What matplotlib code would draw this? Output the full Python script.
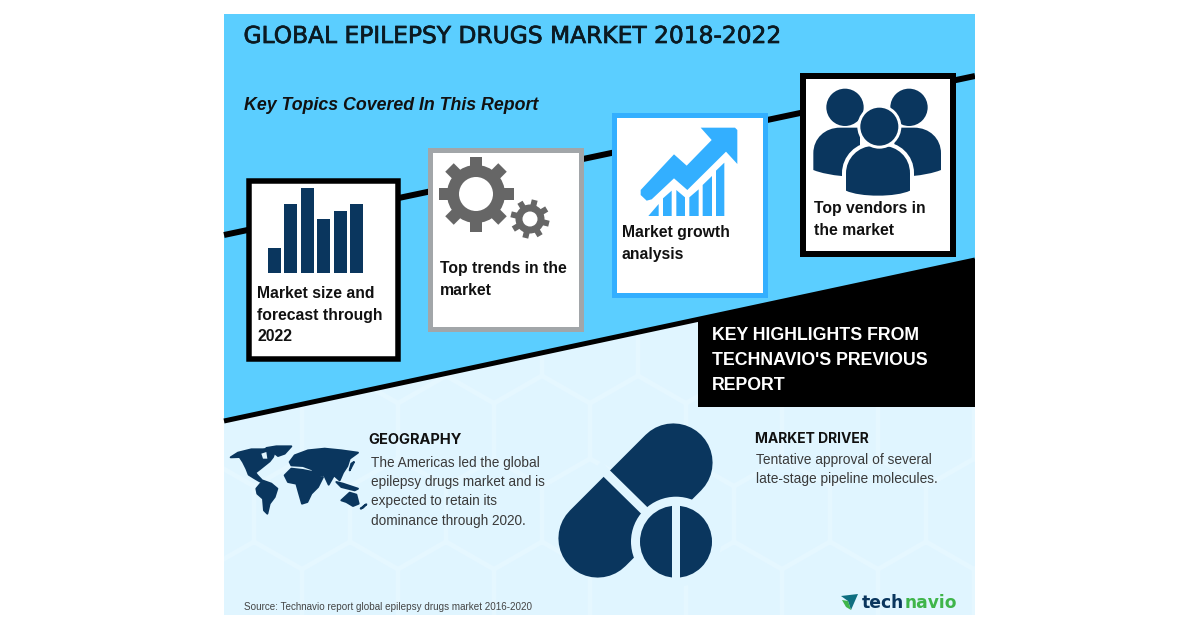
import numpy as np
import matplotlib
matplotlib.use("Agg")
import matplotlib.pyplot as plt
import matplotlib.patheffects as pe
from matplotlib.patches import Polygon, Rectangle, Circle, PathPatch
from matplotlib.path import Path

TITLE = "GLOBAL EPILEPSY DRUGS MARKET 2018-2022"
SUBTITLE = "Key Topics Covered In This Report"
BAR_VALUES = [25, 69, 85, 54, 62, 69]
LABEL_1 = ["Market size and", "forecast through", "2022"]
LABEL_2 = ["Top trends in the", "market"]
LABEL_3 = ["Market growth", "analysis"]
LABEL_4 = ["Top vendors in", "the market"]
HIGHLIGHTS = ["KEY HIGHLIGHTS FROM", "TECHNAVIO'S PREVIOUS", "REPORT"]
GEO_HEAD = "GEOGRAPHY"
GEO_TEXT = ["The Americas led the global", "epilepsy drugs market and is",
            "expected to retain its", "dominance through 2020."]
DRIVER_HEAD = "MARKET DRIVER"
DRIVER_TEXT = ["Tentative approval of several", "late-stage pipeline molecules."]
SOURCE = "Source: Technavio report global epilepsy drugs market 2016-2020"

SKY = "#5BCEFF"; PALE = "#E0F5FF"; HEX = "#E5F7FF"; NAVY = "#0A365E"
BRIGHT = "#33AFFF"; GREY = "#A2A6A9"; GEAR = "#666666"; INK = "#111111"; BODY = "#3A3A3A"
PX = 0.72
SANS = "Liberation Sans"

fig = plt.figure(figsize=(12, 6.27), dpi=100, facecolor="white")
ax = fig.add_axes([0, 0, 1, 1])
ax.set_xlim(0, 1200); ax.set_ylim(627, 0); ax.axis("off")

L, R, T, B = 224, 975, 14, 615
ax.add_patch(Rectangle((L, T), R - L, B - T, fc=SKY, ec="none", zorder=1))
low = Polygon([(L, 421), (R, 260), (R, B), (L, B)], closed=True, fc=PALE, ec="none", zorder=2)
ax.add_patch(low)

# hexagon background
hw, side = 48, 55
for r, cy in enumerate([348, 431, 514, 597, 680]):
    off = 0 if r % 2 else 48
    for cx in np.arange(254 - 96 + off, 1030, 96):
        pts = [(cx, cy - side), (cx + hw, cy - side / 2), (cx + hw, cy + side / 2),
               (cx, cy + side), (cx - hw, cy + side / 2), (cx - hw, cy - side / 2)]
        h = Polygon(pts, closed=True, fc="none", ec=HEX, lw=3.2, zorder=2.5)
        ax.add_patch(h); h.set_clip_path(low)

# diagonals
ax.plot([L, R], [235, 76], color="black", lw=6 * PX, solid_capstyle="butt", zorder=3)
ax.plot([L, R], [421, 260], color="black", lw=5 * PX, solid_capstyle="butt", zorder=3)
ax.add_patch(Polygon([(698, 407), (R, 407), (R, 259), (698, 318.5)], closed=True, fc="black", ec="none", zorder=3))
ax.add_patch(Rectangle((R, 0), 10, 420, fc="white", ec="none", zorder=3.5))

def box(x0, y0, x1, y1, col, bw):
    ax.add_patch(Rectangle((x0 + bw / 2, y0 + bw / 2), x1 - x0 - bw, y1 - y0 - bw,
                           fc="white", ec=col, lw=bw * PX, joinstyle="miter", zorder=4))
box(246, 178, 401, 362, "black", 5.5)
box(427, 147, 583, 331, GREY, 5)
box(611, 112, 767, 297, BRIGHT, 5)
box(800, 73, 956, 257, "black", 6)

# bar icon
iax = fig.add_axes([268 / 1200, 1 - 273 / 627, 95 / 1200, 85 / 627], zorder=5)
iax.bar(range(len(BAR_VALUES)), BAR_VALUES, width=0.76, color=NAVY)
iax.set_xlim(-0.38, 5.38); iax.set_ylim(0, 85); iax.axis("off")

# gears
def gear(cx, cy, body, reach, hole, tw, rot):
    for a in np.deg2rad(np.arange(8) * 45 + rot):
        ax.plot([cx, cx + reach * np.cos(a)], [cy, cy + reach * np.sin(a)],
                color=GEAR, lw=tw * PX, solid_capstyle="butt", zorder=5)
    ax.add_patch(Circle((cx, cy), body, fc=GEAR, ec="none", zorder=5))
    ax.add_patch(Circle((cx, cy), hole, fc="white", ec="none", zorder=5.1))
gear(476, 194, 29, 37.5, 17, 12, 0)
gear(530, 219, 14.5, 19.5, 7.5, 6, 14)

def z2(pts):
    return [(600 + x / 3, 60 + y / 3) for x, y in pts]

# growth arrow
ARROW = [(302, 203), (405, 203), (412, 210), (412, 312), (378, 275), (262, 390), (222, 355),
         (155, 418), (140, 422), (122, 405), (122, 390), (222, 283), (260, 317), (335, 240)]
ax.add_patch(Polygon(z2(ARROW), closed=True, fc=BRIGHT, ec="none", zorder=5))
for s in [[(145, 468), (176, 432), (176, 468)],
          [(189, 468), (189, 415), (215, 392), (215, 468)],
          [(229, 468), (229, 390), (255, 412), (255, 468)],
          [(268, 468), (268, 412), (296, 388), (296, 468)],
          [(308, 468), (308, 375), (336, 348), (336, 468)],
          [(348, 468), (348, 332), (373, 308), (373, 468)]]:
    ax.add_patch(Polygon(z2(s), closed=True, fc=BRIGHT, ec="none", zorder=5))

# people
M, C, LN, CL = Path.MOVETO, Path.CURVE4, Path.LINETO, Path.CLOSEPOLY
def people_body(flip):
    f = (lambda x: 1663 - x) if flip else (lambda x: x)
    v = [(640, 330), (640, 280), (640, 235), (675, 203), (720, 203), (780, 203), (780, 350),
         (725, 348), (695, 345), (665, 340), (640, 330), (640, 330)]
    c = [M, LN, C, C, C, LN, LN, LN, C, C, C, CL]
    return Path(z2([(f(x), y) for x, y in v]), c)
for fl in (False, True):
    ax.add_patch(PathPatch(people_body(fl), fc=NAVY, ec="none", zorder=5))
for cx in (735, 927):
    ax.add_patch(Circle(z2([(cx, 142)])[0], 56 / 3, fc=NAVY, ec="none", zorder=5))
cv = [(738, 392), (780, 412), (888, 412), (930, 392), (930, 340), (930, 290), (890, 258), (850, 258),
      (820, 258), (775, 258), (738, 295), (738, 340), (738, 392)]
cc = [M, C, C, C, LN, C, C, C, LN, C, C, C, CL]
ax.add_patch(PathPatch(Path(z2(cv), cc), fc="white", ec="white", lw=8 * PX, zorder=5.2))
ax.add_patch(PathPatch(Path(z2(cv), cc), fc=NAVY, ec="none", zorder=5.25))
ax.add_patch(Circle(z2([(838, 200)])[0], 22, fc="white", ec="none", zorder=5.3))
ax.add_patch(Circle(z2([(838, 200)])[0], 19, fc=NAVY, ec="none", zorder=5.35))

# pill
ax.plot([597.7, 673.3], [538.3, 462.7], color=NAVY, lw=78.6 * PX, solid_capstyle="round", zorder=5)
ax.plot([598, 652], [465, 518], color=PALE, lw=9 * PX, solid_capstyle="butt", zorder=5.1)
ax.add_patch(Circle((676, 541.7), 45, fc=PALE, ec="none", zorder=5.2))
ax.add_patch(Circle((676, 541.7), 36, fc=NAVY, ec="none", zorder=5.3))
ax.add_patch(Rectangle((671.7, 500), 8.7, 84, fc=PALE, ec="none", zorder=5.4))

# world map
def z3(pts):
    return [(228 + x / 3, 442 + y / 3) for x, y in pts]
CONTINENTS = [
    [(8, 46), (30, 32), (70, 22), (105, 22), (120, 20), (140, 30), (135, 45), (125, 58), (110, 70), (95, 82), (82, 92),
     (88, 100), (105, 118), (110, 122), (95, 118), (78, 108), (62, 98), (55, 80), (45, 60), (35, 45)],
    [(115, 18), (145, 13), (190, 13), (170, 35), (150, 42), (135, 30)],
    [(85, 140), (105, 116), (130, 125), (148, 140), (140, 165), (125, 185), (118, 215), (108, 205), (105, 170), (88, 155)],
    [(170, 100), (190, 80), (225, 84), (255, 90), (265, 108), (285, 105), (270, 135), (250, 155), (238, 180), (222, 185),
     (212, 150), (205, 125), (180, 120)],
    [(185, 60), (200, 40), (240, 25), (290, 20), (340, 25), (390, 32), (365, 50), (358, 72), (345, 92), (335, 115),
     (318, 100), (302, 128), (288, 98), (268, 105), (252, 82), (225, 72), (190, 70)],
    [(340, 175), (365, 152), (385, 158), (392, 185), (375, 192), (355, 180)],
    [(325, 120), (345, 125), (390, 140), (380, 145), (340, 135)],
    [(398, 200), (410, 190), (415, 187), (405, 197)],
    [(370, 65), (378, 60), (365, 85)],
]
for c in CONTINENTS:
    ax.add_patch(Polygon(z3(c), closed=True, fc=NAVY, ec=NAVY, lw=1.4, joinstyle="round", zorder=5))
ax.add_patch(Polygon(z3([(100, 35), (115, 30), (118, 50), (105, 50)]), closed=True, fc=PALE, ec="none", zorder=5.1))

# texts
def tx(x, y, s, size, color=INK, weight="normal", style="normal", fam=SANS):
    return ax.text(x, y, s, fontsize=size, color=color, fontweight=weight, fontstyle=style, family=fam,
                   ha="left", va="baseline", zorder=7)
t = tx(243.5, 43, TITLE, 16.8, "#0B1A22", "normal", fam="DejaVu Sans")
t.set_path_effects([pe.withStroke(linewidth=0.5, foreground="#0B1A22")])
tx(244, 110, SUBTITLE, 12.8, INK, "bold", "italic")
for lines, x, y0 in [(LABEL_1, 257, 298), (LABEL_2, 440, 273), (LABEL_3, 622, 237), (LABEL_4, 814, 213)]:
    for i, s in enumerate(lines):
        tx(x, y0 + i * 21.7, s, 11.35, INK, "bold")
for i, s in enumerate(HIGHLIGHTS):
    tx(712, 340 + i * 25, s, 12.8, "white", "bold")
tx(368, 444, GEO_HEAD, 10.5, INK, "bold", fam="Inter")
tx(755, 443, DRIVER_HEAD, 10, INK, "bold", fam="Inter")
for i, s in enumerate(GEO_TEXT):
    tx(371, 467 + i * 19.2, s, 9.8, BODY)
for i, s in enumerate(DRIVER_TEXT):
    tx(756, 464 + i * 19.2, s, 9.9, BODY)
tx(244, 610, SOURCE, 7.1, "#444444")

# logo
lg = tx(862, 608, "tech", 12.3, NAVY, "bold", fam="DejaVu Sans")
fig.canvas.draw()
ext = lg.get_window_extent()
tx(ext.x1 + 0.5, 608, "navio", 12.3, "#3FB54A", "bold", fam="DejaVu Sans")
ax.add_patch(Polygon([(841, 596), (858, 594), (851, 610), (848, 601)], closed=True, fc="#0E6E80", ec="none", zorder=6))
ax.add_patch(Polygon([(842, 600), (848, 601), (851, 610), (846, 607)], closed=True, fc="#3FB54A", ec="none", zorder=6))

fig.savefig("out.png", dpi=100)
